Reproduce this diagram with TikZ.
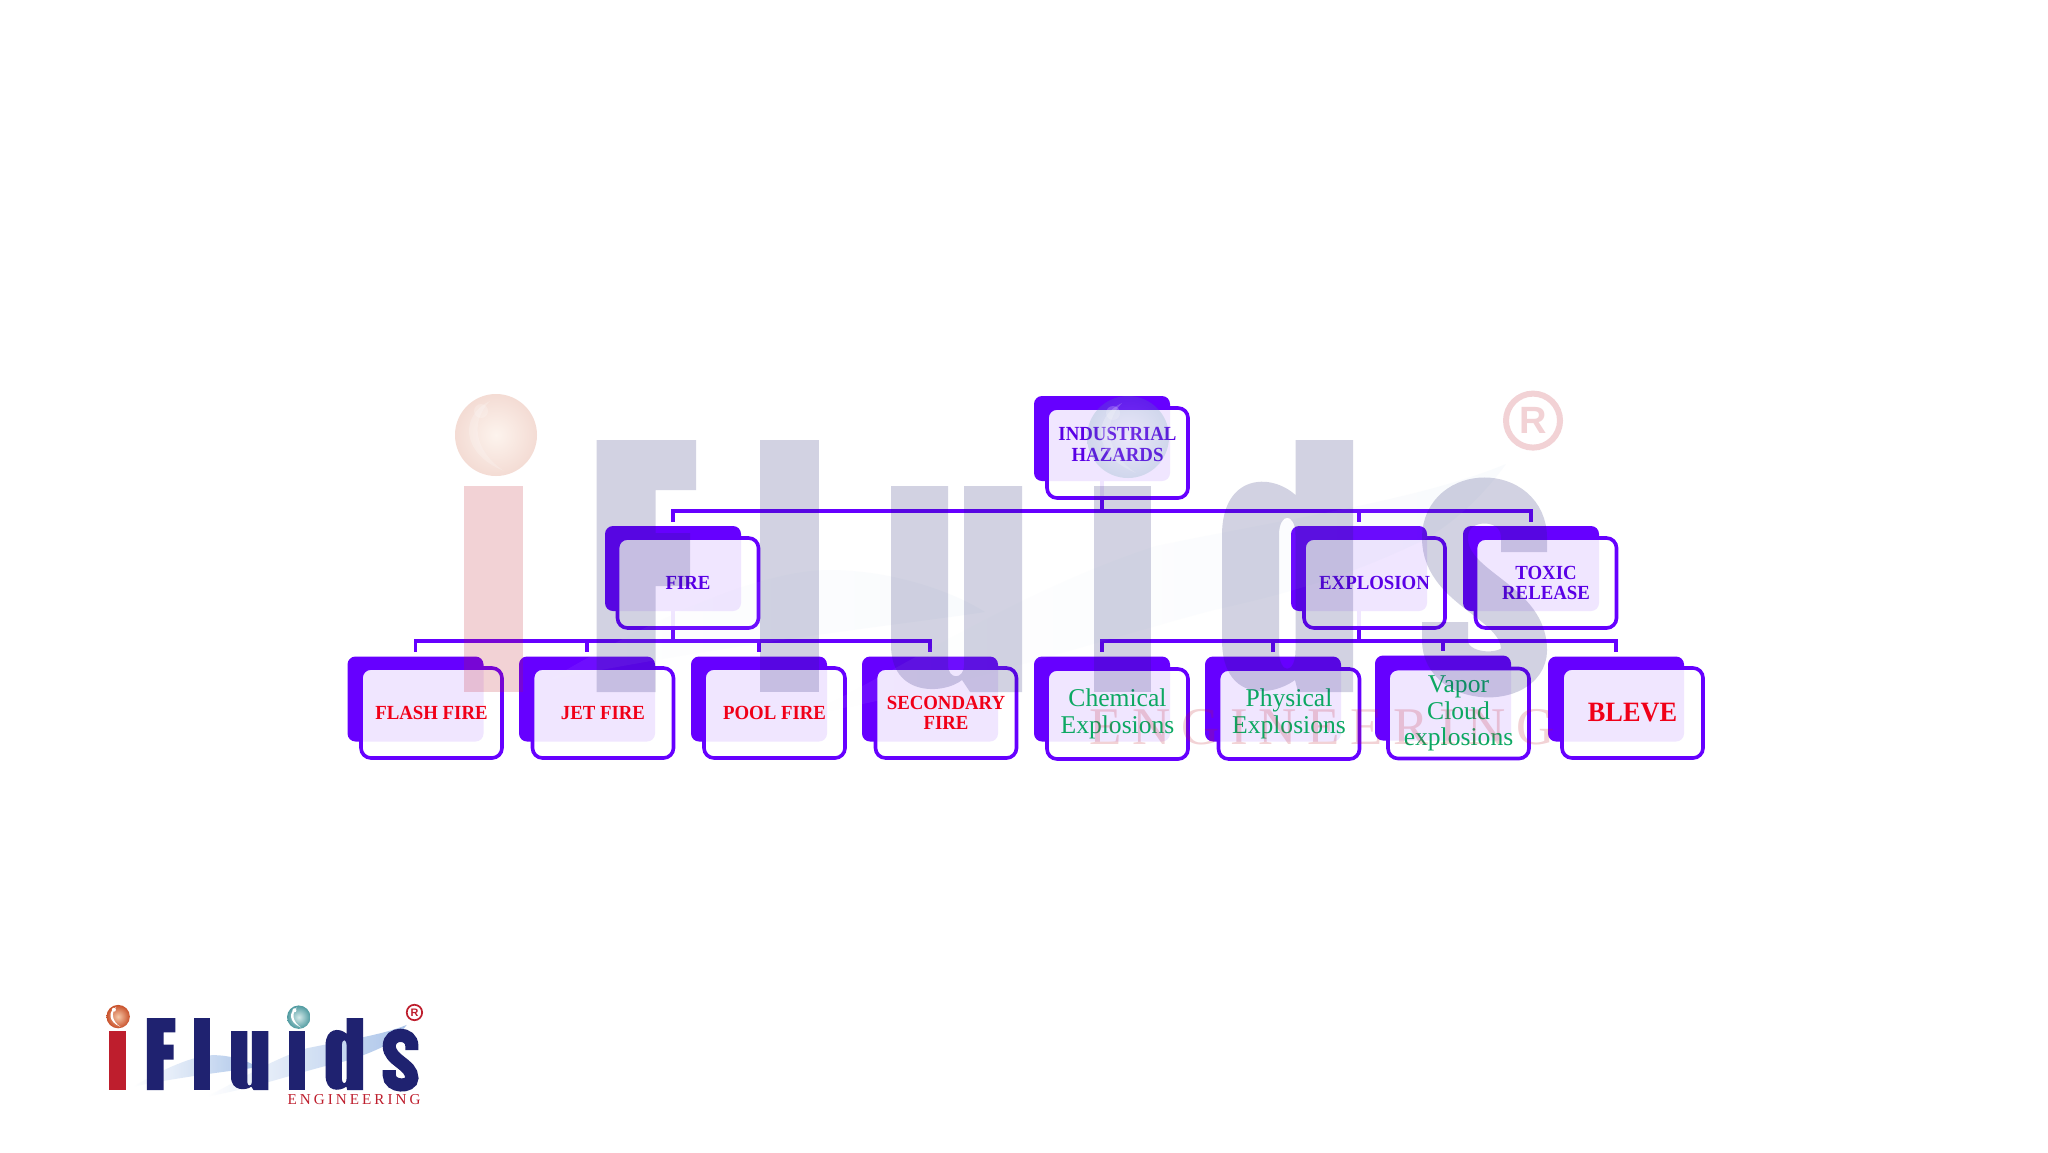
\documentclass[tikz,border=0pt]{standalone}
\usepackage{fontspec}
\setmainfont{Liberation Serif}
\newfontfamily\regfont{Liberation Sans}
\newfontfamily\spacedfont[LetterSpace=20]{Liberation Serif}
\newfontfamily\narrowfont[FakeStretch=0.94]{Liberation Serif}
\definecolor{hzviolet}{HTML}{6600FF}
\definecolor{hzlabel}{HTML}{5A00E6}
\definecolor{hzred}{HTML}{F00018}
\definecolor{hzgreen}{HTML}{0CA862}
\definecolor{lgnavy}{HTML}{1F2270}
\definecolor{lgred}{HTML}{BE1E2D}
\definecolor{lgwave}{HTML}{9DBBE6}
\definecolor{ballArim}{HTML}{C8502A}
\definecolor{ballAin}{HTML}{F6C8A8}
\definecolor{ballBrim}{HTML}{4F9AA0}
\definecolor{ballBin}{HTML}{D5EAEA}
\tikzset{
  backbox/.style={rectangle,rounded corners=4pt,fill=hzviolet,minimum width=68pt,minimum height=42.5pt,inner sep=0pt},
  frontbox/.style={rectangle,rounded corners=5pt,draw=hzviolet,line width=1.8pt,fill=white,fill opacity=.9,text opacity=1,minimum width=70.5pt,minimum height=45pt,inner sep=0pt,align=center},
  conn/.style={draw=hzviolet,line width=1.8pt},
  stub/.style={conn,shorten >=2pt},
  toplabel/.style={font=\narrowfont\bfseries\fontsize{10}{10.2}\selectfont,text=hzlabel},
  firelabel/.style={font=\narrowfont\bfseries\fontsize{10}{10.2}\selectfont,text=hzred},
  explabel/.style={font=\fontsize{12.8}{13.2}\selectfont,text=hzgreen},
  blevelabel/.style={font=\narrowfont\bfseries\fontsize{14}{14}\selectfont,text=hzred},
}
% the iFluids mark, in the coordinates of the large watermark
\newcommand{\lgball}[5]{%
  \shade[inner color=#5,outer color=#4] (#1,#2) circle[radius=#3];
  \fill[white] (#1-6,#2-34) .. controls (#1-36,#2-20) and (#1-36,#2+18) .. (#1+8,#2+36)
     .. controls (#1-22,#2+16) and (#1-26,#2-14) .. (#1-6,#2-34) -- cycle;
  \fill[white] (#1-15,#2-24) circle[radius=7];
}
\newcommand{\lgmark}{%
  \begin{scope}[fill opacity=\lgwop]
  \shade[left color=white,right color=lgwave] (549,680) .. controls (650,620) and (760,570) .. (829,570)
     .. controls (890,570) and (950,590) .. (985,612)
     .. controls (900,625) and (750,640) .. (549,680) -- cycle;
  \shade[left color=white,right color=lgwave] (806,715) .. controls (900,670) and (1020,590) .. (1156,546)
     .. controls (1280,520) and (1420,500) .. (1506,464)
     .. controls (1480,500) and (1450,525) .. (1424,540)
     .. controls (1340,580) and (1280,595) .. (1214,610)
     .. controls (1100,640) and (950,690) .. (806,715) -- cycle;
  \end{scope}
  \fill[lgred] (464,486) rectangle (523,692);
  \fill[lgnavy] (596.5,440) -- (696,440) -- (696,490) -- (655.5,490) -- (655.5,533) -- (690,533)
     -- (690,586) -- (655.5,586) -- (655.5,692) -- (596.5,692) -- cycle;
  \fill[lgnavy] (760,440) rectangle (819,692);
  \fill[lgnavy] (891,486) -- (948,486) -- (948,665) .. controls (948,680) and (964,680) .. (964,665)
     -- (964,486) -- (1022,486) -- (1022,692) -- (970,692) -- (962,680)
     .. controls (945,694) and (891,698) .. (891,645) -- cycle;
  \fill[lgnavy] (1094,486) rectangle (1151,692);
  \fill[lgnavy,even odd rule] (1295.5,440) -- (1353,440) -- (1353,692) -- (1298,692) -- (1295,680)
     .. controls (1270,698) and (1222,700) .. (1222,640) -- (1222,535)
     .. controls (1222,475) and (1270,472) .. (1295.5,495) -- cycle
     (1279,535) .. controls (1279,512) and (1295.5,512) .. (1295.5,535) -- (1295.5,650)
     .. controls (1295.5,675) and (1279,675) .. (1279,650) -- cycle;
  \draw[lgnavy,line width=\lgk*23pt] (1524,552) -- (1524,538) .. controls (1524,488) and (1445,488) .. (1445,538)
     .. controls (1445,590) and (1524,600) .. (1524,650)
     .. controls (1524,684) and (1445,684) .. (1445,640) -- (1445,622);
  \lgball{496}{435}{41}{ballArim}{ballAin}
  \lgball{1128}{437}{41}{ballBrim}{ballBin}
  \draw[lgred,line width=\lgk*3pt] (1533,420.6) circle[radius=27];
  \node[transform shape,text=lgred,text opacity=\lgtext,font=\regfont\bfseries\fontsize{19}{19}\selectfont,inner sep=0pt] (regmark\lgid) at (1533,420.6) {R};
  \node[transform shape,text=lgred,text opacity=\lgtext,font=\spacedfont\fontsize{26.5}{26.5}\selectfont,inner sep=0pt] (engineering\lgid) at (1322,727) {ENGINEERING};
}
\begin{document}
\begin{tikzpicture}[x=0.5pt,y=-0.5pt]
\useasboundingbox (0,0) rectangle (2048,1152);
\fill[white] (0,0) rectangle (2048,1152);
% shadow boxes
\node[backbox] (rootb) at (1102,438.5) {};
\node[backbox] (fireb) at (673,568.5) {};
\node[backbox] (explb) at (1359,568.5) {};
\node[backbox] (toxb) at (1531,568.5) {};
\node[backbox] (flashb) at (415.5,699) {};
\node[backbox] (jetb) at (587,699) {};
\node[backbox] (poolb) at (759,699) {};
\node[backbox] (secb) at (930,699) {};
\node[backbox] (chemb) at (1102,699) {};
\node[backbox] (physb) at (1273,699) {};
\node[backbox] (vapb) at (1443,698) {};
\node[backbox] (bleveb) at (1616,699) {};
% connectors
\coordinate (bara) at (1102,511);
\coordinate (barb) at (673,641);
\coordinate (barc) at (1359,641);
\draw[conn] (rootb.south) -- (bara);
\draw[stub] (bara) -| (fireb.north);
\draw[stub] (bara) -| (explb.north);
\draw[stub] (bara) -| (toxb.north);
\draw[conn] (fireb.south) -- (barb);
\draw[stub] (barb) -| (flashb.north);
\draw[stub] (barb) -| (jetb.north);
\draw[stub] (barb) -| (poolb.north);
\draw[stub] (barb) -| (secb.north);
\draw[conn] (explb.south) -- (barc);
\draw[stub] (barc) -| (chemb.north);
\draw[stub] (barc) -| (physb.north);
\draw[stub] (barc) -| (vapb.north);
\draw[stub] (barc) -| (bleveb.north);
% front boxes
\node[frontbox] (rootf) at (1117.5,453) {};
\node[toplabel,align=center,inner sep=0pt] (rootlabel) at (1117.5,444.5) {INDUSTRIAL\\HAZARDS};
\node[frontbox,toplabel] (firef) at (688,583) {FIRE};
\node[frontbox,toplabel] (explf) at (1374.5,583) {EXPLOSION};
\node[frontbox,toplabel] (toxf) at (1546,583) {TOXIC\\RELEASE};
\node[frontbox,firelabel] (flashf) at (431.5,713) {FLASH FIRE};
\node[frontbox,firelabel] (jetf) at (603,713) {JET FIRE};
\node[frontbox,firelabel] (poolf) at (774.5,713) {POOL FIRE};
\node[frontbox,firelabel] (secf) at (946,713) {SECONDARY\\FIRE};
\node[frontbox,explabel] (chemf) at (1117.5,714) {Chemical\\Explosions};
\node[frontbox,explabel] (physf) at (1289,714) {Physical\\Explosions};
\node[frontbox,explabel] (vapf) at (1458.5,713.5) {Vapor\\Cloud\\explosions};
\node[frontbox,blevelabel] (blevef) at (1632.5,713) {BLEVE};
% watermark
\def\lgid{w}\def\lgtext{.2}\def\lgk{1}\def\lgwop{.06}
\begin{scope}[fill opacity=.2,draw opacity=.2]
\lgmark
\end{scope}
% logo
\def\lgid{l}\def\lgtext{1}\def\lgk{0.2857}\def\lgwop{.85}
\begin{scope}[shift={(-23.571,892.286)},scale=0.285714]
\lgmark
\end{scope}
\end{tikzpicture}
\end{document}
